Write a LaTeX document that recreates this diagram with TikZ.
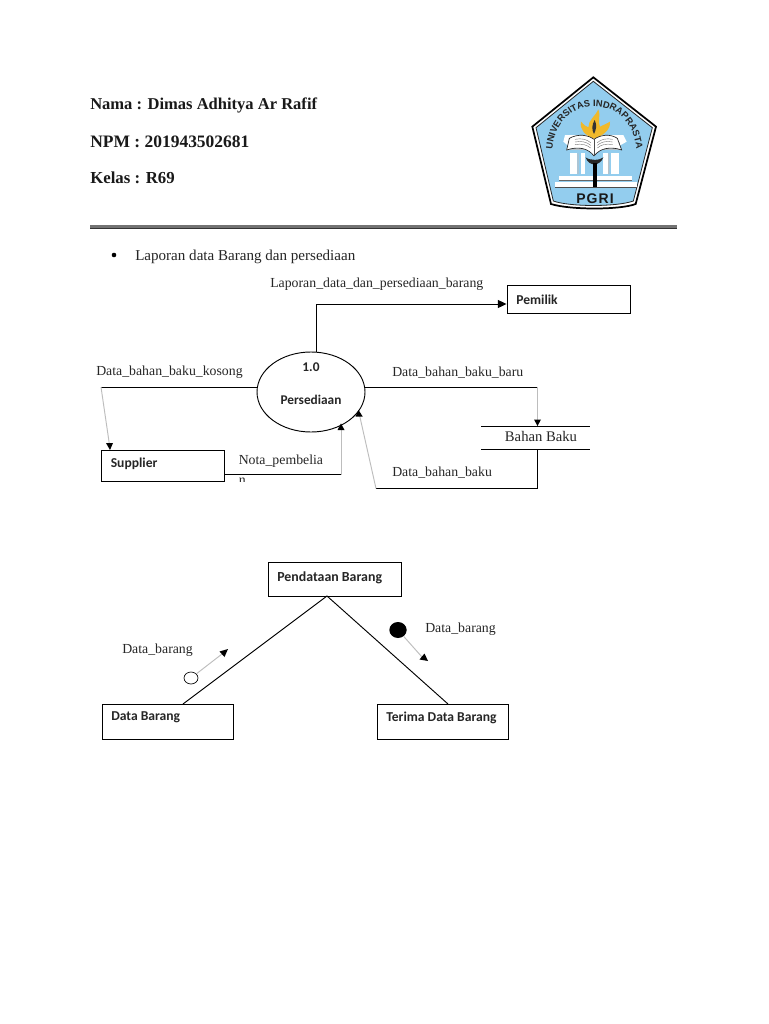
\documentclass[tikz,border=0pt]{standalone}
\usepackage{fontspec}
\setmainfont{Liberation Serif}
\newfontfamily\carl{Carlito}
\newfontfamily\lsans{Liberation Sans}
\usetikzlibrary{arrows.meta,decorations.text,calc,shapes.geometric}
\definecolor{logoblue}{HTML}{93CDEE}
\definecolor{logogold}{HTML}{F0B92B}
\definecolor{logogrey}{HTML}{B8C2C8}
\definecolor{lightline}{HTML}{BDBDBD}
\tikzset{
  txt/.style={anchor=west,inner sep=0pt,font=\fontsize{11.3}{13}\selectfont,text=black!85},
  lab/.style={anchor=west,inner sep=0pt,font=\fontsize{10.35}{13}\selectfont,text=black!85},
  head/.style={anchor=west,inner sep=0pt,text=black!90},
  boxlbl/.style={anchor=west,inner sep=0pt,font=\carl\fontsize{10.2}{12}\selectfont\bfseries,text=black!85},
  proclbl/.style={inner sep=0pt,font=\carl\fontsize{10}{12}\selectfont\bfseries,text=black!85},
  ent/.style={draw=black,line width=0.7pt,rectangle,inner sep=0pt},
  flow/.style={draw=black,line width=0.7pt},
  pale/.style={draw=lightline,line width=0.7pt},
  tip/.style={-{Triangle[length=6.5pt,width=6pt,fill=black]}},
  pix/.style={x=0.75pt,y=-0.75pt},
}
\begin{document}
\begin{tikzpicture}[pix]
\useasboundingbox (0,0) rectangle (768,1024);
\fill[white] (0,0) rectangle (768,1024);
% header
\node[head,font=\fontsize{12.4}{15}\selectfont\bfseries] (nama) at (90,105) {Nama : Dimas Adhitya Ar Rafif};
\node[head,font=\fontsize{13.1}{15}\selectfont\bfseries] (npm) at (90,142) {NPM : 201943502681};
\node[head,font=\fontsize{12.6}{15}\selectfont\bfseries] (kelas) at (90,178) {Kelas : R69};
\fill[black!55] (90,225) rectangle (677,229);
\draw[black!80,line width=0.5pt] (90,228.8) -- (677,228.8);
% bullet
\fill[black] (114,255) circle (2.3);
\node[txt] (lap) at (135,256.5) {Laporan data Barang dan persediaan};
% logo
\begin{scope}[shift={(520,70)},x=0.25pt,y=-0.25pt]
  \filldraw[draw=black,line width=1.3pt,fill=white] (220,22) -- (408,170) -- (347,402) .. controls (300,420) and (150,420) .. (93,402) -- (37,170) -- cycle;
  \filldraw[draw=black!85,line width=0.6pt,fill=logoblue] (220,34) -- (397,173) -- (340,393) .. controls (290,411) and (150,411) .. (100,393) -- (48,173) -- cycle;
  % steps
  \fill[white] (105,335) rectangle (350,350);
  \fill[black!70] (105,350) rectangle (350,353);
  \fill[white] (118,318) rectangle (335,330);
  \fill[black!60] (118,330) rectangle (335,333);
  % temple
  \fill[white] (135,195) -- (310,195) -- (320,215) -- (290,232) -- (150,232) -- (130,215) -- cycle;
  \fill[logogrey] (145,215) rectangle (300,240);
  \fill[white] (150,250) rectangle (172,312);
  \fill[white] (182,250) rectangle (195,312);
  \fill[white] (250,250) rectangle (264,312);
  \fill[white] (272,250) rectangle (296,312);
  \fill[logogrey] (172,250) rectangle (176,312) (264,250) rectangle (268,312);
  % flame
  \fill[logogold] (220,206) .. controls (195,195) and (178,178) .. (183,155) .. controls (192,165) and (198,170) .. (205,172) .. controls (205,150) and (225,140) .. (235,118) .. controls (243,140) and (232,152) .. (240,170) .. controls (250,165) and (262,160) .. (270,155) .. controls (272,180) and (250,195) .. (225,206) -- cycle;
  \fill[black!80] (224,150) .. controls (215,165) and (215,180) .. (222,192) .. controls (228,180) and (232,165) .. (224,150) -- cycle;
  % book
  \filldraw[draw=black!85,line width=0.5pt,fill=white] (148,205) .. controls (175,190) and (205,195) .. (222,208) .. controls (240,195) and (270,190) .. (292,205) -- (305,240) .. controls (270,228) and (240,235) .. (222,258) .. controls (205,235) and (175,228) .. (140,240) -- cycle;
  \draw[black!70,line width=0.3pt] (222,208) -- (222,258);
  \foreach \d in {0,8,16}{
    \draw[black!55,line width=0.3pt] (165,{208+\d}) .. controls (185,{204+\d}) and (200,{208+\d}) .. (212,{218+\d});
    \draw[black!55,line width=0.3pt] (278,{208+\d}) .. controls (258,{204+\d}) and (243,{208+\d}) .. (232,{218+\d});
  }
  % torch
  \fill[black!85] (197,262) .. controls (205,290) and (240,290) .. (250,262) .. controls (240,272) and (208,272) .. (197,262) -- cycle;
  \fill[black] (219,280) rectangle (231,350);
  % name
  \path[postaction={decorate,decoration={text along path,text align={align=center},
     text={|\lsans\bfseries\fontsize{7}{8}\selectfont\color{black!85}|UNIVERSITAS INDRAPRASTA}}}]
     (97,242) .. controls (106,65) and (340,65) .. (349,242);
  \node[font=\lsans\bfseries\fontsize{10.5}{12}\selectfont,text=black!90,inner sep=0pt] (pgri) at (225,385) {P\kern0.8pt G\kern0.8pt R\kern0.8pt I};
\end{scope}
% upper DFD
\node[lab] (l1) at (270,284.5) {Laporan\_data\_dan\_persediaan\_barang};
\node[ent,minimum width=92.25pt,minimum height=21pt] (pemilik) at (568.5,299) {};
\node[boxlbl] at (516,299.5) {Pemilik};
\node[draw=black,line width=0.7pt,ellipse,minimum width=81pt,minimum height=60pt,inner sep=0pt] (proc) at (311,392) {};
\node[proclbl] (p1) at (311,367) {1.0};
\node[proclbl] (p2) at (311,400) {Persediaan};
\node[ent,minimum width=92.25pt,minimum height=23.25pt] (supplier) at (162.5,465.5) {};
\node[boxlbl] at (110.5,463.5) {Supplier};
\node[lab] (l2) at (96,372.5) {Data\_bahan\_baku\_kosong};
\node[lab] (l3) at (392,372.5) {Data\_bahan\_baku\_baru};
\node[lab] (l4) at (392,472.5) {Data\_bahan\_baku};
\node[lab] (l5) at (238.5,461) {Nota\_pembelia};
\begin{scope}
  \clip (230,475.5) rectangle (260,481.5);
  \node[lab] (l6) at (238.5,481) {n};
\end{scope}
% store
\coordinate (st1) at (481,426); \coordinate (st2) at (590,426);
\coordinate (st3) at (481,449); \coordinate (st4) at (590,449);
\draw[flow] (st1) -- (st2) (st3) -- (st4);
\node[font=\fontsize{11}{13}\selectfont,text=black!85,inner sep=0pt] (bb) at (541,436) {Bahan Baku};
% connectors
\coordinate (c1) at (316,304);
\draw[flow] (c1 |- proc.north) -- (c1);
\draw[flow,tip] (c1) -- (c1 -| pemilik.west);
\coordinate (c2) at (101,387);
\draw[flow] (proc.west |- c2) -- (c2);
\draw[pale] (c2) -- (109.5,445);
\draw[draw=none,fill=black] (106,443) -- (113,443) -- (110,450) -- cycle;
\coordinate (c3) at (341,474.5);
\draw[flow] (supplier.east |- c3) -- (c3);
\draw[pale] (c3) -- (341,428);
\fill[black] (341,423.5) -- (344.5,430) -- (337.5,430) -- cycle;
\coordinate (c4) at (537.5,387);
\draw[flow] (proc.east |- c4) -- (c4);
\draw[pale] (c4) -- (537.5,420);
\fill[black] (534,419.5) -- (541,419.5) -- (537.5,426) -- cycle;
\coordinate (c5) at (537.5,449);
\coordinate (c6) at (537.5,488.5);
\coordinate (c7) at (376,488.5);
\draw[flow] (c5) -- (c6) -- (c7);
\draw[pale] (c7) -- (359.5,415);
\fill[black] (358.5,410) -- (362.7,416.5) -- (355.5,416.5) -- cycle;
% lower diagram
\node[ent,minimum width=99.75pt,minimum height=25.5pt] (pend) at (334.5,579) {};
\node[boxlbl,font=\carl\fontsize{10.4}{12}\selectfont\bfseries] at (277,577.5) {Pendataan Barang};
\node[ent,minimum width=98.25pt,minimum height=26.25pt] (db) at (167.5,721.5) {};
\node[boxlbl] at (111,717.5) {Data Barang};
\node[ent,minimum width=98.25pt,minimum height=26.25pt] (tdb) at (442.5,721.5) {};
\node[boxlbl] at (386,717.5) {Terima Data Barang};
\coordinate (apex) at (327,596);
\coordinate (dbt) at (183,704);
\coordinate (tdbt) at (448,704);
\draw[flow] (dbt) -- (apex) -- (tdbt);
\node[lab] (d1) at (122,650.5) {Data\_barang};
\node[lab] (d2) at (425,629.5) {Data\_barang};
\node[draw=black,line width=0.5pt,fill=white,ellipse,minimum width=10.5pt,minimum height=9pt,inner sep=0pt] (wc) at (191,678) {};
\node[fill=black,ellipse,minimum width=13pt,minimum height=12pt,inner sep=0pt] (bc) at (398,630) {};
\coordinate (a1) at (222,654);
\draw[pale] (wc) -- (a1);
\fill[black] (228,649) -- (224.5,657) -- (219.5,651.5) -- cycle;
\coordinate (a2) at (422,657);
\draw[pale] (bc) -- (a2);
\fill[black] (428,661) -- (419.5,659.5) -- (424.5,653.5) -- cycle;
\end{tikzpicture}
\end{document}
